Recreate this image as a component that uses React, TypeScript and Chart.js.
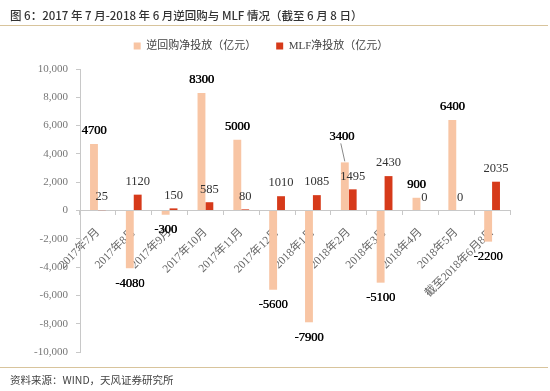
import { useEffect, useRef } from 'react';
import { Chart, registerables } from 'chart.js';

Chart.register(...registerables);

const categories = [
  '2017年7月', '2017年8月', '2017年9月', '2017年10月', '2017年11月', '2017年12月',
  '2018年1月', '2018年2月', '2018年3月', '2018年4月', '2018年5月', '截至2018年6月8日',
];
const reverseRepo = [4700, -4080, -300, 8300, 5000, -5600, -7900, 3400, -5100, 900, 6400, -2200];
const mlf = [25, 1120, 150, 585, 80, 1010, 1085, 1495, 2430, 0, 0, 2035];
const seriesNames = ['逆回购净投放（亿元）', 'MLF净投放（亿元）'];
const yMin = -10000;
const yMax = 10000;
const yStep = 2000;

const SERIF = '"Liberation Serif", "Noto Sans CJK SC", serif';
const PEACH = '#F8C5A4';
const RED = '#D63A1A';

const labelPlugin = {
  id: 'barLabels',
  afterDatasetsDraw(chart: any) {
    const ctx = chart.ctx;
    ctx.save();
    ctx.textAlign = 'center';
    ctx.textBaseline = 'middle';
    chart.data.datasets.forEach((ds: any, di: number) => {
      const meta = chart.getDatasetMeta(di);
      meta.data.forEach((bar: any, i: number) => {
        const v = ds.data[i];
        const lifted = di === 0 && i === 7;
        let x = bar.x;
        let y = v >= 0 ? bar.y - 13 : bar.y + 15;
        if (lifted) {
          x = bar.x - 3;
          y = bar.y - 26;
          ctx.strokeStyle = '#888';
          ctx.lineWidth = 1;
          ctx.beginPath();
          ctx.moveTo(bar.x - 4, bar.y - 19);
          ctx.lineTo(bar.x, bar.y - 1);
          ctx.stroke();
        }
        ctx.font = '12.5px ' + SERIF;
        ctx.fillStyle = di === 0 ? '#000' : '#333';
        if (di === 0) {
          ctx.fillText(String(v), x, y);
          ctx.fillText(String(v), x + 0.4, y);
        } else {
          ctx.fillText(String(v), x, y);
        }
      });
    });
    ctx.restore();
  },
};

export default function App() {
  const ref = useRef<HTMLCanvasElement>(null);

  useEffect(() => {
    document.body.style.margin = '0';
    const chart = new Chart(ref.current as HTMLCanvasElement, {
      type: 'bar',
      data: {
        labels: categories,
        datasets: [
          { label: seriesNames[0], data: reverseRepo, backgroundColor: PEACH, borderWidth: 0 },
          { label: seriesNames[1], data: mlf, backgroundColor: RED, borderWidth: 0 },
        ],
      },
      options: {
        responsive: false,
        animation: false,
        devicePixelRatio: 1,
        layout: { padding: { top: 20.5, left: 12, right: 40, bottom: 39 } },
        datasets: { bar: { categoryPercentage: 0.44, barPercentage: 1 } },
        plugins: {
          tooltip: { enabled: false },
          legend: {
            position: 'top',
            labels: {
              boxWidth: 7,
              boxHeight: 7,
              padding: 20,
              color: '#444',
              font: { family: SERIF, size: 11 },
            },
          },
          subtitle: {
            display: true,
            text: ' ',
            weight: 500,
            padding: 0,
            font: { size: 7.5, lineHeight: 1 },
          } as any,
        },
        scales: {
          x: {
            position: { y: 0 } as any,
            grid: { drawOnChartArea: false, drawTicks: true, tickLength: 4, color: '#c8c8c8', offset: true },
            border: { color: '#c8c8c8' },
            ticks: {
              autoSkip: false,
              minRotation: 45,
              maxRotation: 45,
              padding: 11,
              color: '#666',
              font: { family: SERIF, size: 11.5 },
            },
          },
          y: {
            min: yMin,
            max: yMax,
            afterFit: (s: any) => { s.width = 68; },
            grid: { drawOnChartArea: false, drawTicks: true, tickLength: 4, color: '#c8c8c8' },
            border: { color: '#c8c8c8' },
            ticks: {
              stepSize: yStep,
              padding: 8,
              color: '#777',
              font: { family: SERIF, size: 11 },
              callback: (v: any) => Number(v).toLocaleString('en-US'),
            },
          },
        },
      },
      plugins: [labelPlugin],
    });
    return () => chart.destroy();
  }, []);

  return (
    <div style={{ position: 'relative', width: 550, height: 391, background: '#fff', overflow: 'hidden' }}>
      <canvas ref={ref} width={550} height={391} style={{ position: 'absolute', left: 0, top: 0 }} />
      <div style={{ position: 'absolute', left: 10, top: 7, fontFamily: '"Noto Sans CJK SC", sans-serif', fontSize: 11.5, fontWeight: 500, color: '#333', whiteSpace: 'nowrap', lineHeight: '16px' }}>
        图 6：2017 年 7 月-2018 年 6 月逆回购与 MLF 情况（截至 6 月 8 日）
      </div>
      <div style={{ position: 'absolute', left: 0, top: 25, width: 548, height: 1, background: '#D8C49C' }} />
      <div style={{ position: 'absolute', left: 0, top: 367, width: 548, height: 1, background: '#D8C49C' }} />
      <div style={{ position: 'absolute', left: 10, top: 372, fontFamily: '"Noto Sans CJK SC", sans-serif', fontSize: 10.5, color: '#444', whiteSpace: 'nowrap', lineHeight: '15px' }}>
        资料来源：WIND，天风证券研究所
      </div>
    </div>
  );
}
